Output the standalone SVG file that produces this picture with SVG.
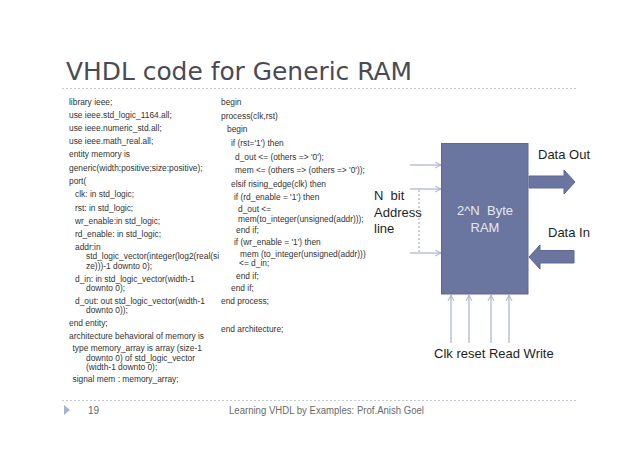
<svg xmlns="http://www.w3.org/2000/svg" width="638" height="451" viewBox="0 0 638 451">
<defs>
<style>
.title{font-family:"DejaVu Sans","Liberation Sans",sans-serif;font-size:24px;fill:#4a4a54}
.code{font-family:"Liberation Sans",Arial,sans-serif;font-size:8.4px;fill:#333}
.lbl{font-family:"Liberation Sans",Arial,sans-serif;font-size:13px;fill:#1e1e1e}
.ram{font-family:"Liberation Sans",Arial,sans-serif;font-size:13px;fill:#e4e8f2}
.foot{font-family:"Liberation Sans",Arial,sans-serif;font-size:10px;fill:#6a6a6a}
.dots{stroke:#c4c8d0;stroke-width:1;stroke-dasharray:2 2;fill:none}
.thin{stroke:#a9b0cc;stroke-width:1.2;fill:none}
.big{fill:#6a76a0;stroke:#5d6991;stroke-width:1}
</style>
<marker id="ah" viewBox="0 0 8 8" refX="7" refY="4" markerWidth="8" markerHeight="8" markerUnits="userSpaceOnUse" orient="auto">
<path d="M1,1 L7,4 L1,7" fill="none" stroke="#a9b0cc" stroke-width="1"/>
</marker>
</defs>
<rect width="638" height="451" fill="#fff"/>

<g id="title">
<text class="title" x="66" y="80" textLength="346" lengthAdjust="spacingAndGlyphs">VHDL code for Generic RAM</text>
<line class="dots" x1="62" y1="88.5" x2="576" y2="88.5"/>
</g>

<g id="code-left" class="code">
<text x="69" y="105">library ieee;</text>
<text x="69" y="118">use ieee.std_logic_1164.all;</text>
<text x="69" y="131">use ieee.numeric_std.all;</text>
<text x="69" y="144">use ieee.math_real.all;</text>
<text x="69" y="157">entity memory is</text>
<text x="69" y="170.5">generic(width:positive;size:positive);</text>
<text x="69" y="183.5">port(</text>
<text x="75" y="197">clk: in std_logic;</text>
<text x="75" y="210.5">rst: in std_logic;</text>
<text x="75" y="223.5">wr_enable:in std_logic;</text>
<text x="75" y="237">rd_enable: in std_logic;</text>
<text x="75" y="249.5">addr:in</text>
<text x="86" y="259">std_logic_vector(integer(log2(real(si</text>
<text x="86" y="268.5">ze)))-1 downto 0);</text>
<text x="75" y="281.5">d_in: in std_logic_vector(width-1</text>
<text x="86" y="291">downto 0);</text>
<text x="75" y="303.5">d_out: out std_logic_vector(width-1</text>
<text x="86" y="313">downto 0));</text>
<text x="69" y="325.5">end entity;</text>
<text x="69" y="338.5">architecture behavioral of memory is</text>
<text x="72.5" y="351">type memory_array is array (size-1</text>
<text x="86" y="360.5">downto 0) of std_logic_vector</text>
<text x="86" y="370">(width-1 downto 0);</text>
<text x="72.5" y="381.5">signal mem : memory_array;</text>
</g>

<g id="code-right" class="code">
<text x="221" y="105">begin</text>
<text x="221" y="118.5">process(clk,rst)</text>
<text x="227" y="132">begin</text>
<text x="231" y="146">if (rst='1') then</text>
<text x="235" y="160">d_out &lt;= (others =&gt; '0');</text>
<text x="235" y="173">mem &lt;= (others =&gt; (others =&gt; '0'));</text>
<text x="231" y="187">elsif rising_edge(clk) then</text>
<text x="234" y="200">if (rd_enable = '1') then</text>
<text x="238" y="212">d_out &lt;=</text>
<text x="238" y="221.5">mem(to_integer(unsigned(addr)));</text>
<text x="236" y="232.5">end if;</text>
<text x="234" y="245">if (wr_enable = '1') then</text>
<text x="240" y="256.5">mem (to_integer(unsigned(addr)))</text>
<text x="239" y="266">&lt;= d_in;</text>
<text x="236" y="278.5">end if;</text>
<text x="231" y="291">end if;</text>
<text x="221" y="304">end process;</text>
<text x="221" y="332">end architecture;</text>
</g>

<g id="ram">
<rect x="441.5" y="143.5" width="86.5" height="150.5" fill="#6a76a0" stroke="#5d6991" stroke-width="1"/>
<text class="ram" x="485" y="215" text-anchor="middle" xml:space="preserve">2^N  Byte</text>
<text class="ram" x="485" y="232" text-anchor="middle">RAM</text>
</g>

<g id="address-label">
<text class="lbl" x="374" y="200" xml:space="preserve">N  bit</text>
<text class="lbl" x="374" y="216.5">Address</text>
<text class="lbl" x="374" y="232.5">line</text>
</g>

<g id="data-out">
<polygon class="big" points="529,176 564,176 564,170 575,182 564,194 564,188 529,188"/>
<text class="lbl" x="538" y="159">Data Out</text>
</g>

<g id="data-in">
<polygon class="big" points="574,250.5 540,250.5 540,245 529,257 540,269 540,263 574,263"/>
<text class="lbl" x="548" y="237">Data In</text>
</g>

<g id="control-label">
<text class="lbl" x="434" y="358">Clk reset Read Write</text>
</g>

<g id="connectors">
<line class="thin" x1="410" y1="165" x2="441" y2="165" marker-end="url(#ah)"/>
<line class="thin" x1="410" y1="189" x2="441" y2="189" marker-end="url(#ah)"/>
<line class="thin" x1="410" y1="253" x2="441" y2="253" marker-end="url(#ah)"/>
<line x1="419" y1="190" x2="419" y2="252" stroke="#a9b0cc" stroke-width="1.2" stroke-dasharray="2 2"/>
<line class="thin" x1="451" y1="343" x2="451" y2="295" marker-end="url(#ah)"/>
<line class="thin" x1="469" y1="343" x2="469" y2="295" marker-end="url(#ah)"/>
<line class="thin" x1="491" y1="343" x2="491" y2="295" marker-end="url(#ah)"/>
<line class="thin" x1="509" y1="343" x2="509" y2="295" marker-end="url(#ah)"/>
</g>

<g id="footer">
<line class="dots" x1="62" y1="400.5" x2="576" y2="400.5"/>
<polygon points="64,405 70,410 64,415" fill="#a6b4cc"/>
<text class="foot" x="88" y="414">19</text>
<text class="foot" x="229" y="414" textLength="195" lengthAdjust="spacingAndGlyphs">Learning VHDL by Examples: Prof.Anish Goel</text>
</g>
</svg>
